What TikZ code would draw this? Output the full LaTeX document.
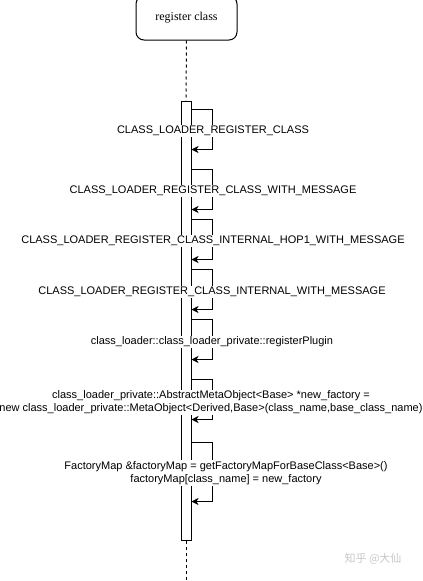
\documentclass[tikz,border=0pt]{standalone}
\usepackage{fontspec}
\setmainfont{Liberation Serif}
\setsansfont{Liberation Sans}
\newfontfamily\cjkfont{Noto Sans CJK SC}
\usetikzlibrary{arrows.meta}
\begin{document}
\begin{tikzpicture}[x=1pt,y=-1pt,
  lbl/.style={font=\sffamily\fontsize{11}{13}\selectfont, fill=white, inner sep=1pt, align=center},
  msg/.style={draw=black, line width=1pt, -{Stealth[length=7pt,width=7pt,inset=2pt]}},
  life/.style={draw=black, line width=1pt, dash pattern=on 3pt off 3pt}]
\useasboundingbox (0,0) rectangle (423,581);
% lifeline head
\node[draw, rounded corners=8pt, line width=1pt, minimum width=101pt, minimum height=44pt,
      inner sep=0pt, font=\rmfamily\fontsize{12}{14}\selectfont] (actor) at (186.5,18) {register class};
% activation bar
\node[draw, fill=white, line width=1pt, minimum width=10pt, minimum height=439pt, inner sep=0pt] (bar) at (186,320.5) {};
\coordinate (lifeend) at (186,581);
\draw[life] (actor.south) -- (bar.north);
\draw[life] (bar.south) -- (lifeend);
% self messages
\foreach \i/\t/\b in {1/110/150, 2/170/210, 3/220/260, 4/270/310, 5/320/360, 6/380/420, 7/443/502} {
  \path (bar.north east) ++(0,\t-101) coordinate (s\i);
  \path (bar.north east) ++(0,\b-101) coordinate (r\i);
  \draw[msg] (s\i) -- ++(21,0) |- (r\i);
}
% labels
\node[lbl] (l1) at (213,131) {CLASS\_LOADER\_REGISTER\_CLASS};
\node[lbl] (l2) at (213,191) {CLASS\_LOADER\_REGISTER\_CLASS\_WITH\_MESSAGE};
\node[lbl] (l3) at (213,241) {CLASS\_LOADER\_REGISTER\_CLASS\_INTERNAL\_HOP1\_WITH\_MESSAGE};
\node[lbl] (l4) at (212,292) {CLASS\_LOADER\_REGISTER\_CLASS\_INTERNAL\_WITH\_MESSAGE};
\node[lbl] (l5) at (212,342) {class\_loader::class\_loader\_private::registerPlugin};
\node[lbl] (l6) at (211,402.5) {class\_loader\_private::AbstractMetaObject<Base> *new\_factory =\\new class\_loader\_private::MetaObject<Derived,Base>(class\_name,base\_class\_name)};
\node[lbl] (l7) at (226,473) {FactoryMap \&factoryMap = getFactoryMapForBaseClass<Base>()\\factoryMap[class\_name] = new\_factory};
% watermark
\node[text=black!22, font=\cjkfont\fontsize{11}{13}\selectfont, inner sep=0pt] (wm) at (373,559) {知乎 @大仙};
\end{tikzpicture}
\end{document}
